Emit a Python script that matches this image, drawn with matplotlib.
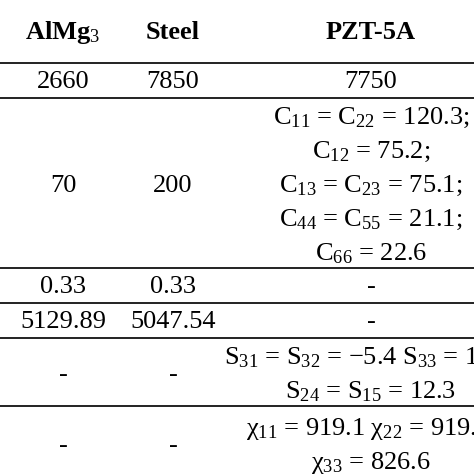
import matplotlib
matplotlib.use("Agg")
import matplotlib.pyplot as plt

plt.rcParams['font.family'] = ['Liberation Serif', 'DejaVu Serif']
plt.rcParams['mathtext.fontset'] = 'custom'
plt.rcParams['mathtext.rm'] = 'Liberation Serif'
plt.rcParams['mathtext.it'] = 'Liberation Serif'

headers = ["AlMg$_{3}$", "Steel", "PZT-5A"]
density = ["2660", "7850", "7750"]
modulus = ["70", "200", ["C$_{11}$ = C$_{22}$ = 120.3;", "C$_{12}$ = 75.2;",
                         "C$_{13}$ = C$_{23}$ = 75.1;", "C$_{44}$ = C$_{55}$ = 21.1;",
                         "C$_{66}$ = 22.6"]]
poisson = ["0.33", "0.33", "-"]
wave = ["5129.89", "5047.54", "-"]
piezo = ["-", "-", ["S$_{31}$ = S$_{32}$ = \u22125.4 S$_{33}$ = 15.8;", "S$_{24}$ = S$_{15}$ = 12.3"]]
dielec = ["-", "-", ["χ$_{11}$ = 919.1 χ$_{22}$ = 919.1;", "χ$_{33}$ = 826.6"]]

W = H = 474
fig = plt.figure(figsize=(4.74, 4.74), dpi=100)
ax = fig.add_axes([0, 0, 1, 1])
ax.set_xlim(0, W)
ax.set_ylim(H, 0)
ax.axis('off')

col_x = [63, 173, 371]
fs = 19
lh = 34
rows = [(density, 82), (modulus, 186), (poisson, 287), (wave, 322), (piezo, 375), (dielec, 446)]

for h, x in zip(headers, col_x):
    ax.text(x, 32, h, ha='center', va='center', fontsize=19, fontweight='bold')

for vals, yc in rows:
    for v, x in zip(vals, col_x):
        if isinstance(v, list):
            n = len(v)
            for i, line in enumerate(v):
                y = yc + (i - (n - 1) / 2) * lh
                ax.text(x, y, line, ha='center', va='center', fontsize=fs, clip_on=True)
        else:
            ax.text(x, yc, v, ha='center', va='center', fontsize=fs, clip_on=True)

for y in [63, 98, 268, 303, 338, 406]:
    ax.plot([0, W], [y, y], color='#222222', lw=1.4)

fig.savefig("out.png", dpi=100)
